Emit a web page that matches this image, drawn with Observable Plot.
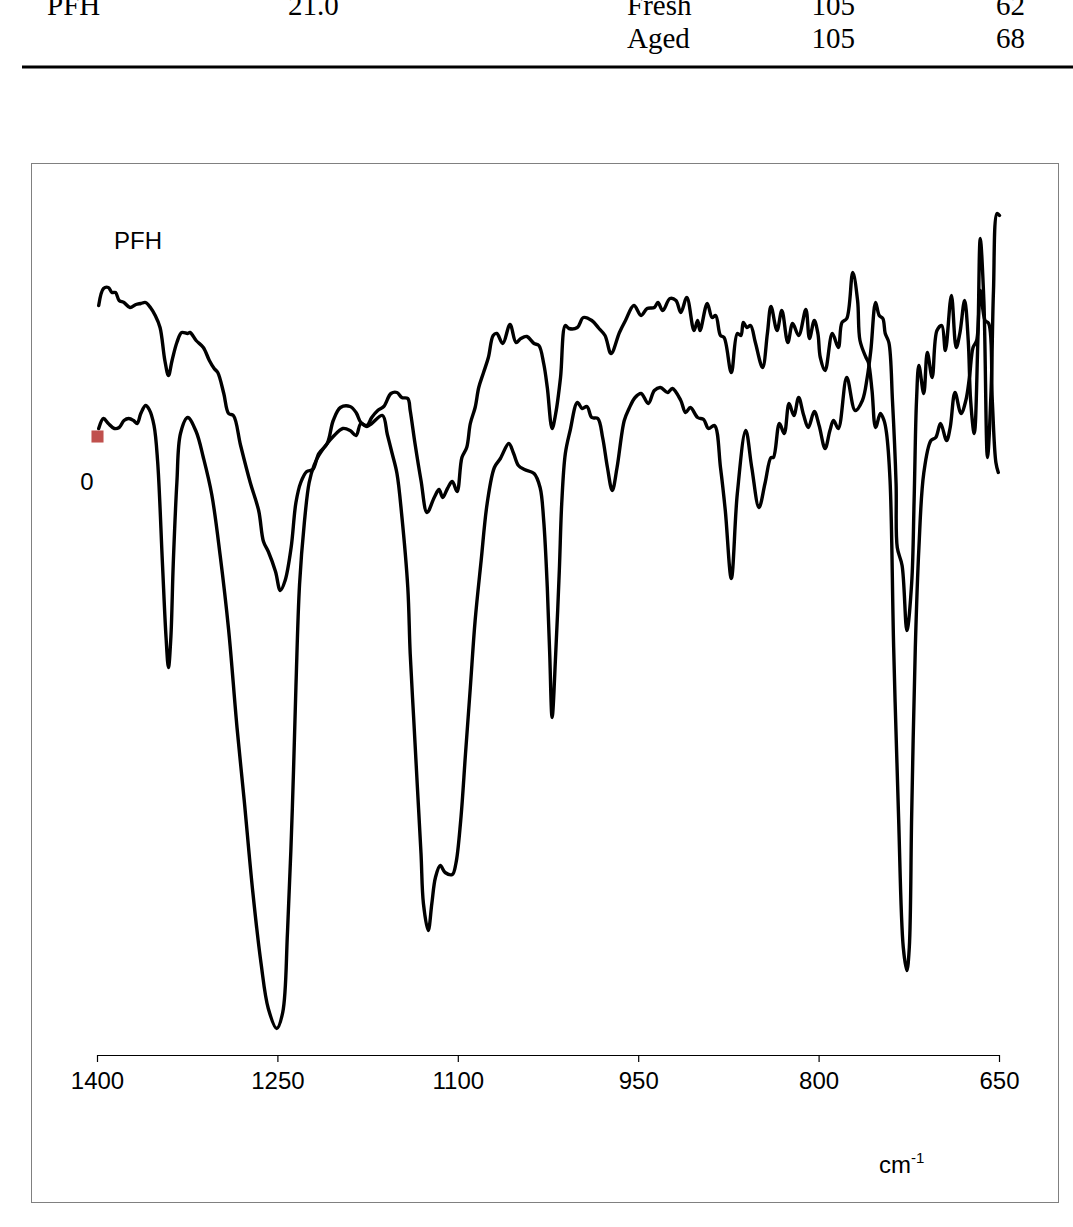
<!DOCTYPE html>
<html><head><meta charset="utf-8">
<script src="https://cdn.jsdelivr.net/npm/d3@7"></script>
<script src="https://cdn.jsdelivr.net/npm/@observablehq/plot@0.6"></script>
<style>
html,body{margin:0;padding:0;background:#fff;}
body{width:1073px;height:1227px;overflow:hidden;position:relative;}
#chart{position:absolute;left:31px;top:163px;width:1028px;height:1040px;}
#box{position:absolute;left:31px;top:163px;width:1028px;height:1040px;box-sizing:border-box;border:1px solid #808080;pointer-events:none;}
#overlay{position:absolute;left:0;top:0;pointer-events:none;}
.tbl{font-family:"Liberation Serif","Times New Roman",serif;font-size:29px;fill:#000;}
.ann{font-family:"Liberation Sans",Arial,sans-serif;font-size:24px;fill:#000;}
</style></head><body>
<div id="chart"></div>
<div id="box"></div>
<svg id="overlay" width="1073" height="1227">
  <text class="tbl" x="47" y="15">PFH</text>
  <text class="tbl" x="288" y="15">21.0</text>
  <text class="tbl" x="627" y="15">Fresh</text>
  <text class="tbl" x="855" y="15" text-anchor="end">105</text>
  <text class="tbl" x="1025" y="15" text-anchor="end">62</text>
  <text class="tbl" x="627" y="48">Aged</text>
  <text class="tbl" x="855" y="48" text-anchor="end">105</text>
  <text class="tbl" x="1025" y="48" text-anchor="end">68</text>
  <rect x="22" y="65.5" width="1051" height="3" fill="#000"></rect>
  <text class="ann" x="114" y="249">PFH</text>
  <text class="ann" x="87" y="490" text-anchor="middle">0</text>
  <text class="ann" x="879" y="1173">cm<tspan font-size="15" dy="-10">-1</tspan></text>
</svg>
<script>
// Upper spectrum (wavenumber in cm-1, signal in arbitrary units)
const upperWavenumber = [1399,1395,1391,1388,1385,1382,1378,1373,1368,1364,
1360,1356,1352,1348,1344,1341,1338,1334,1330,1325,
1323,1318,1312,1307,1303,1300,1295,1291,1287,1281,
1273,1266,1262,1258,1252,1248,1244,1239,1235,1231,
1226,1221,1216,1209,1204,1198,1190,1185,1181,1176,
1172,1167,1162,1156,1151,1147,1142,1140,1136,1131,
1126,1120,1116,1113,1109,1105,1101,1097,1093,1090,
1086,1083,1079,1075,1071,1068,1063,1057,1052,1048,
1043,1037,1033,1029,1026,1022,1019,1015,1011,1008,
1001,996,989,983,978,973,966,961,954,948,
943,937,934,930,924,919,915,910,904,901,
899,893,889,886,882,879,873,868,865,863,
860,857,853,847,843,840,835,831,826,822,
817,811,808,804,801,799,795,789,784,781,
777,772,768,766,761,759,756,753,749,746,
744,741,738,734,730,727,725,723,720,717,
713,707,703,699,694,691,687,682,678,675,
672,669,666,662,659,656,653,651];
const upperSignal = [75.0,76.7,76.8,76.3,76.3,75.5,75.3,74.8,75.1,75.2,
75.3,74.8,74.0,72.8,69.5,68.0,69.5,71.3,72.3,72.2,
72.3,71.5,70.8,69.5,68.7,68.3,66.2,64.2,64.0,61.0,
57.3,54.5,51.4,50.4,48.4,46.5,47.5,50.8,55.3,57.3,
58.4,58.6,60.2,61.2,63.5,64.8,64.9,64.3,63.3,63.0,
63.8,64.5,64.9,66.2,66.3,65.8,65.7,64.5,61.2,57.5,
54.3,55.8,56.6,55.8,56.7,57.4,56.4,59.8,60.8,63.2,
64.8,66.8,68.3,69.8,72.0,72.2,71.2,73.1,71.3,71.7,
71.9,71.2,71.0,69.2,66.8,62.7,64.2,67.8,73.0,72.7,
72.8,73.8,73.5,72.7,72.0,70.2,72.3,73.5,75.0,74.0,
74.7,74.8,75.3,74.5,75.7,75.5,74.3,75.8,72.5,73.5,
72.5,75.2,73.8,74.0,72.0,71.8,68.3,72.2,72.0,73.3,
72.8,73.0,71.3,68.8,72.2,74.9,72.5,74.5,71.3,73.2,
72.0,74.6,71.7,73.5,72.2,69.8,68.5,72.2,70.8,73.3,
73.7,78.3,75.5,71.5,69.8,69.3,66.5,62.8,64.2,63.5,
62.3,57.5,40.8,24.2,10.8,8.5,10.8,24.2,40.8,50.8,
58.2,61.5,61.8,63.2,61.5,62.8,66.3,64.2,65.5,67.8,
70.8,71.5,76.5,73.5,73.2,65.5,59.3,58.3];

// Lower spectrum
const lowerWavenumber = [1399,1395,1391,1386,1382,1378,1374,1370,1367,1364,
1360,1357,1353,1350,1346,1343,1341,1339,1337,1334,
1331,1325,1318,1312,1305,1298,1291,1284,1278,1271,
1264,1258,1251,1246,1242,1238,1235,1232,1228,1224,
1220,1216,1209,1204,1196,1190,1185,1181,1176,1172,
1163,1159,1155,1151,1147,1142,1140,1137,1134,1131,
1129,1125,1122,1119,1115,1111,1105,1102,1098,1094,
1090,1086,1081,1076,1070,1065,1058,1054,1050,1045,
1037,1032,1029,1026,1024,1022,1019,1016,1014,1011,
1007,1001,997,993,989,984,980,976,972,968,
962,958,953,948,942,937,932,926,922,915,
911,907,901,896,892,887,882,878,873,868,
861,856,850,845,840,838,833,829,825,821,
817,813,809,804,800,795,791,788,784,777,
770,764,760,757,753,750,747,745,742,739,
736,735,731,727,723,721,719,717,713,710,
706,702,698,695,690,686,683,679,676,674,
671,668,666,663,660,657,655,652,650];
const lowerSignal = [62.7,63.7,63.2,62.7,62.8,63.5,63.7,63.5,63.2,64.2,
65.0,64.6,63.0,59.4,49.2,41.8,38.8,41.8,49.2,57.3,
62.2,63.8,62.4,59.8,56.1,50.0,42.6,32.8,25.5,16.5,
9.2,4.7,2.7,4.3,12.4,24.7,36.9,47.1,53.3,57.3,
59.0,60.0,61.2,61.9,62.7,62.5,62.0,63.2,62.9,63.2,
64.0,62.1,60.2,58.2,54.0,46.8,40.2,33.5,26.8,20.2,
15.2,12.5,15.2,17.8,19.0,18.3,18.1,19.2,23.5,30.2,
36.8,43.5,49.5,55.2,58.8,59.7,61.2,60.2,59.0,58.6,
58.2,56.8,53.5,46.8,40.2,33.8,40.2,48.5,55.2,60.2,
62.5,65.3,64.7,64.9,63.8,63.7,61.8,58.8,56.5,58.8,
63.5,64.7,65.8,66.2,65.2,66.5,66.8,66.3,66.7,65.5,
64.3,64.8,63.8,63.6,62.7,63.0,58.8,54.5,47.7,56.2,
62.5,58.8,54.8,57.2,59.8,59.8,63.2,62.2,65.2,64.0,
65.8,64.1,62.8,64.4,63.0,60.7,62.5,63.5,62.7,67.8,
64.5,65.5,67.8,70.5,75.3,74.0,73.7,72.2,71.3,65.5,
57.2,50.8,49.0,42.5,47.3,55.5,65.5,69.0,66.2,70.3,
67.8,72.5,73.0,70.5,76.0,70.8,72.2,75.5,71.5,65.5,
62.2,71.5,81.7,75.5,59.8,66.5,76.5,84.2,84.0];

// Marker point (red square)
const markerWavenumber = [1400];
const markerSignal = [61.9];

// Axis ticks
const xTicks = [1400, 1250, 1100, 950, 800, 650];

const toRows = (xs, ys) => xs.map((wn, i) => ({wn, v: ys[i]}));
const upper = toRows(upperWavenumber, upperSignal);
const lower = toRows(lowerWavenumber, lowerSignal);
const marker = toRows(markerWavenumber, markerSignal);

const chart = Plot.plot({
  width: 1028,
  height: 1040,
  marginLeft: 66,
  marginRight: 60,
  marginTop: 17,
  marginBottom: 148,
  style: {fontFamily: "'Liberation Sans', Arial, sans-serif", fontSize: "24px", color: "#000", background: "transparent", overflow: "visible"},
  x: {domain: [1400, 650], label: null},
  y: {domain: [0, 87.5], axis: null},
  marks: [
    Plot.ruleY([0], {stroke: "#000", strokeWidth: 1.2}),
    Plot.axisX(xTicks, {tickSize: 7, tickPadding: 9, fontSize: 24, tickFormat: d => String(d), label: null, stroke: "#000", strokeWidth: 1.2}),
    Plot.line(upper, {x: "wn", y: "v", stroke: "#000", strokeWidth: 3.4, strokeLinejoin: "round", curve: "catmull-rom"}),
    Plot.line(lower, {x: "wn", y: "v", stroke: "#000", strokeWidth: 3.4, strokeLinejoin: "round", curve: "catmull-rom"}),
    Plot.dot(marker, {x: "wn", y: "v", symbol: "square", r: 6.8, fill: "#c0504d", strokeWidth: 0})
  ]
});
document.getElementById("chart").appendChild(chart);
</script>
</body></html>
